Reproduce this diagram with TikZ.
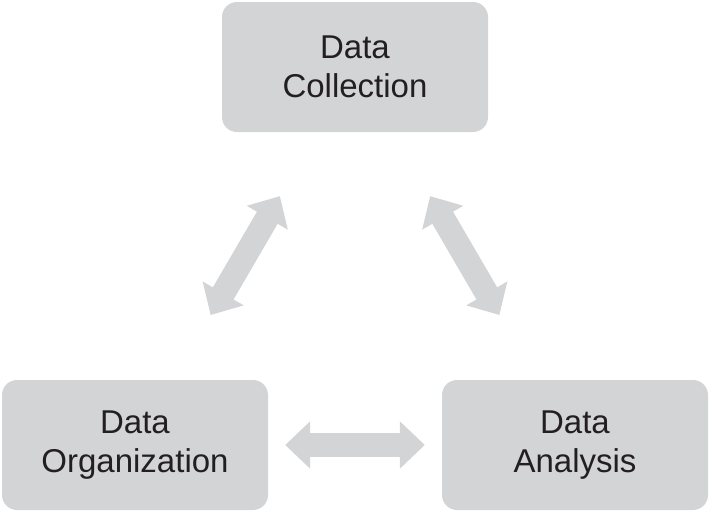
\documentclass[tikz,border=0pt]{standalone}
\usepackage{fontspec}
\setmainfont{Liberation Sans}
\usetikzlibrary{arrows.meta}
\definecolor{boxgray}{RGB}{211,212,214}
\definecolor{inkblack}{RGB}{35,31,32}

\begin{document}
\begin{tikzpicture}
        [x=1pt,y=-1pt,
        stage/.style={fill=boxgray,rounded corners=15pt,minimum width=266pt,minimum height=130pt,align=center,text=inkblack,font=\fontsize{33}{39}\selectfont},
        link/.style={draw=boxgray,line width=24pt,{Triangle[width=46pt,length=25pt]}-{Triangle[width=46pt,length=25pt]}}]

        \useasboundingbox (0,0) rectangle (710,512);

        \node[stage] (collect) at (355, 67) {Data\\Collection};
        \node[stage] (organize) at (135, 445) {Data\\Organization};
        \node[stage] (analyze) at (575, 445) {Data\\Analysis};

        \draw[link, shorten <=74pt, shorten >=75pt] (collect) -- (organize);
        \draw[link, shorten <=74pt, shorten >=75pt] (collect) -- (analyze);
        \draw[link, shorten <=17pt, shorten >=17pt] (organize) -- (analyze);

      \end{tikzpicture}
\end{document}
